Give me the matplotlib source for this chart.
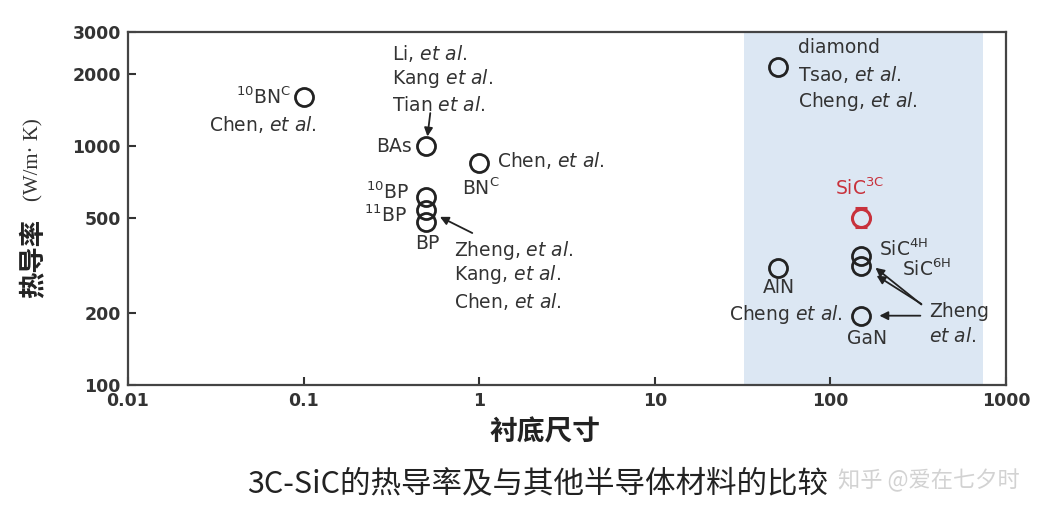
import matplotlib
matplotlib.use("Agg")
import matplotlib.pyplot as plt

# data
materials = ["10BN", "BAs", "BN", "10BP", "11BP", "BP",
             "diamond", "SiC3C", "SiC4H", "SiC6H", "AlN", "GaN"]
substrate_size = [0.1, 0.5, 1, 0.5, 0.5, 0.5, 50, 150, 150, 150, 50, 150]
conductivity = [1600, 1000, 850, 610, 540, 480, 2150, 500, 345, 315, 310, 195]
sic3c_err = [[42], [48]]

x_ticks = [0.01, 0.1, 1, 10, 100, 1000]
x_ticklabels = ["0.01", "0.1", "1", "10", "100", "1000"]
y_ticks = [100, 200, 500, 1000, 2000, 3000]
y_ticklabels = ["100", "200", "500", "1000", "2000", "3000"]
shade_range = (32, 735)

plt.rcParams["mathtext.fontset"] = "dejavusans"
plt.rcParams["font.family"] = ["DejaVu Sans", "Noto Sans CJK SC"]

TXT = "#333333"
CJK = ["Noto Sans CJK SC", "DejaVu Sans"]

fig = plt.figure(figsize=(10.48, 5.22), dpi=100)
ax = fig.add_axes([0.122, 0.2625, 0.838, 0.676])

ax.axvspan(*shade_range, color="#dce7f3", zorder=0, lw=0)

pts = dict(zip(materials, zip(substrate_size, conductivity)))
black = [m for m in materials if m != "SiC3C"]
ax.plot([pts[m][0] for m in black], [pts[m][1] for m in black], "o",
        ms=13, mfc="none", mec="#222222", mew=2.0, zorder=3)
ax.errorbar([pts["SiC3C"][0]], [pts["SiC3C"][1]], yerr=sic3c_err, fmt="o",
            ms=13, mfc="none", mec="#c8323c", mew=2.2, ecolor="#c8323c",
            elinewidth=0, capsize=4, capthick=2, zorder=3)

ax.set_xscale("log")
ax.set_yscale("log")
ax.set_xlim(0.01, 1000)
ax.set_ylim(100, 3000)
ax.set_xticks(x_ticks)
ax.set_xticklabels(x_ticklabels)
ax.set_yticks(y_ticks)
ax.set_yticklabels(y_ticklabels)
ax.minorticks_off()
ax.tick_params(direction="in", length=6, width=1.5, colors="#333333",
               labelsize=12.5, pad=5)
for lab in ax.get_xticklabels() + ax.get_yticklabels():
    lab.set_fontweight("bold")
for s in ax.spines.values():
    s.set_linewidth(1.6)
    s.set_color("#444444")


def label(name, text, dx, dy, ha="left", color=TXT, size=13.5):
    ax.annotate(text, xy=pts[name], xytext=(dx, dy), textcoords="offset pixels",
                ha=ha, va="center", color=color, fontsize=size)


def arrow(name, dx, dy, shrink):
    ax.annotate("", xy=pts[name], xytext=(dx, dy), textcoords="offset pixels",
                arrowprops=dict(arrowstyle="-|>,head_length=0.5,head_width=0.25",
                                color="#222222", lw=1.3, shrinkA=0, shrinkB=shrink))


ETAL = r"$\mathit{et\ al.}$"

label("10BN", r"$^{\mathrm{10}}$BN$^{\mathrm{C}}$", -13, 0, ha="right")
label("10BN", "Chen, " + ETAL, -41, -27, ha="center")

label("BAs", "BAs", -14, 0, ha="right")
label("BAs", "Li, " + ETAL, -34, 93)
label("BAs", "Kang " + ETAL, -34, 68)
label("BAs", "Tian " + ETAL, -34, 41)
arrow("BAs", 4, 33, 7)

label("BN", "Chen, " + ETAL, 18, 2)
label("BN", r"BN$^{\mathrm{C}}$", 2, -25, ha="center")

label("10BP", r"$^{\mathrm{10}}$BP", -17, 5, ha="right")
label("11BP", r"$^{\mathrm{11}}$BP", -19, -5, ha="right")
label("BP", "BP", 1, -21, ha="center")
label("BP", "Zheng, " + ETAL, 28, -28)
label("BP", "Kang, " + ETAL, 28, -52)
label("BP", "Chen, " + ETAL, 28, -79)
arrow("11BP", 46, -23, 11)

label("diamond", "diamond", 20, 19)
label("diamond", "Tsao, " + ETAL, 20, -8)
label("diamond", "Cheng, " + ETAL, 20, -35)

label("SiC3C", r"SiC$^{\mathrm{3C}}$", -2, 30, ha="center", color="#c8323c")
label("SiC4H", r"SiC$^{\mathrm{4H}}$", 18, 7)
label("SiC6H", r"SiC$^{\mathrm{6H}}$", 41, -3)
label("AlN", "AlN", 1, -20, ha="center")
label("GaN", "Cheng " + ETAL, -19, 1, ha="right")
label("GaN", "GaN", 6, -23, ha="center")
label("GaN", "Zheng", 68, 4)
label("GaN", ETAL, 68, -21)
arrow("SiC4H", 60, -48, 13)
arrow("SiC6H", 60, -38, 13)
arrow("GaN", 59, 0, 13)

# y label: bold CJK part plus unit
fig.text(34 / 1048, 1 - 258 / 522, "热导率", family=CJK, fontsize=19,
         fontweight="bold", rotation=90, ha="center", va="center", color="#222222")
fig.text(34 / 1048, 1 - 160 / 522, "(W/m· K)", family=["Liberation Serif"],
         fontsize=15, rotation=90, ha="center", va="center", color="#333333")

fig.text(545 / 1048, 1 - 432 / 522, "衬底尺寸", family=CJK, fontsize=20,
         fontweight="bold", ha="center", va="center", color="#222222")
fig.text(538 / 1048, 1 - 484 / 522, "3C-SiC的热导率及与其他半导体材料的比较", family=CJK,
         fontsize=22, ha="center", va="center", color="#222222")
fig.text(1020 / 1048, 1 - 480 / 522, "知乎 @爱在七夕时", family=CJK, fontsize=16,
         ha="right", va="center", color="#c4c4c4", alpha=0.75)

fig.savefig("out.png", dpi=100)
